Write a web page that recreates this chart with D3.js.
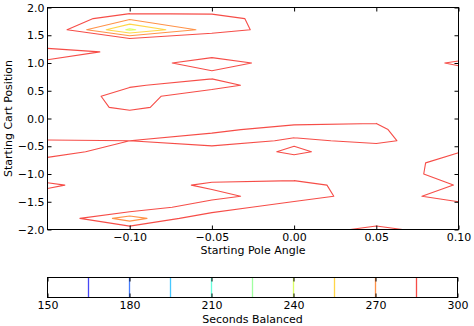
<!DOCTYPE html>
<html>
<head>
<meta charset="utf-8">
<script src="https://cdn.jsdelivr.net/npm/d3@7"></script>
<style>
  html, body { margin: 0; padding: 0; background: #fff; }
  svg { display: block; font-family: "DejaVu Sans", sans-serif; }
</style>
</head>
<body>
<svg id="chart" width="474" height="326"></svg>
<script>
// Sampled starting states: pole angle (columns) and cart position (rows, top to bottom)
const angles = [-0.15, -0.10, -0.05, 0.00, 0.05, 0.10];
const positions = [2.0, 1.8, 1.6, 1.4, 1.2, 1.0, 0.8, 0.6, 0.4, 0.2, 0.0,
                   -0.2, -0.4, -0.6, -0.8, -1.0, -1.2, -1.4, -1.6, -1.8, -2.0];

// Seconds the pole stayed balanced for each starting state (row per position)
const seconds = [
  [300, 300, 300,   300, 300,   300],
  [300, 273, 275,   300, 300,   300],
  [300, 237, 278,   293, 300,   300],
  [300, 298, 300,   300, 300,   300],
  [278, 289, 300,   300, 300,   299],
  [288, 300, 271,   300, 300,   282],
  [300, 300, 291,   300, 300,   294],
  [300, 287, 277,   300, 300,   300],
  [300, 277, 298,   300, 300,   300],
  [300, 280, 300,   300, 300,   300],
  [300, 300, 300,   300, 287,   300],
  [300, 300, 291,   274, 282.5, 300],
  [284, 285, 272,   289, 280,   300],
  [272, 300, 300,   281, 300,   286],
  [298, 300, 300,   296, 300,   275],
  [300, 300, 300,   300, 300,   274],
  [281, 300, 280,   275, 300,   284],
  [294, 300, 292.5, 271, 300,   273],
  [300, 300, 271,   300, 300,   297],
  [300, 262, 300,   300, 300,   300],
  [300, 295, 300,   300, 278,   300]
];

const levels = [165, 180, 195, 210, 225, 240, 255, 270, 285];
const xTicks = [-0.10, -0.05, 0.00, 0.05, 0.10];
const yTicks = [-2.0, -1.5, -1.0, -0.5, 0.0, 0.5, 1.0, 1.5, 2.0];
const barTicks = [150, 180, 210, 240, 270, 300];

const svg = d3.select("#chart");
const plot = { left: 47.5, right: 458.5, top: 7.5, bottom: 229.5 };
const bar = { left: 47.5, right: 457.5, top: 277.5, bottom: 297.5 };

const x = d3.scaleLinear().domain([-0.15, 0.10]).range([plot.left, plot.right]);
const y = d3.scaleLinear().domain([-2, 2]).range([plot.bottom, plot.top]);
const xBar = d3.scaleLinear().domain([150, 300]).range([bar.left, bar.right]);

// jet colour map
const jetR = d3.scaleLinear([0, 0.35, 0.66, 0.89, 1], [0, 0, 1, 1, 0.5]).clamp(true);
const jetG = d3.scaleLinear([0, 0.125, 0.375, 0.64, 0.91, 1], [0, 0, 1, 1, 0, 0]).clamp(true);
const jetB = d3.scaleLinear([0, 0.11, 0.34, 0.65, 1], [0.5, 1, 1, 0, 0]).clamp(true);
const jet = t => d3.rgb(255 * jetR(t), 255 * jetG(t), 255 * jetB(t)).toString();
const colour = d3.scaleSequential(jet).domain([150, 300]);
const lineAlpha = 0.72;

// Marching squares with linear interpolation on cell edges; saddle cells are
// resolved with the mean of the four corners.
function contourSegments(level) {
  const segs = [];
  for (let r = 0; r < positions.length - 1; r++) {
    for (let c = 0; c < angles.length - 1; c++) {
      const pts = [[c, r], [c + 1, r], [c + 1, r + 1], [c, r + 1]];
      const z = pts.map(([i, j]) => seconds[j][i]);
      const low = z.map(v => v < level);
      const cross = [];
      for (let k = 0; k < 4; k++) {
        const k2 = (k + 1) % 4;
        if (low[k] !== low[k2]) {
          const t = (level - z[k]) / (z[k2] - z[k]);
          const a = pts[k], b = pts[k2];
          cross[k] = [
            angles[a[0]] + t * (angles[b[0]] - angles[a[0]]),
            positions[a[1]] + t * (positions[b[1]] - positions[a[1]])
          ];
        }
      }
      const edges = [0, 1, 2, 3].filter(k => cross[k]);
      if (edges.length === 2) {
        segs.push([cross[edges[0]], cross[edges[1]]]);
      } else if (edges.length === 4) {
        const centreLow = d3.mean(z) < level;
        for (let k = 0; k < 4; k++) {
          if (low[k] !== centreLow) segs.push([cross[(k + 3) % 4], cross[k]]);
        }
      }
    }
  }
  return segs;
}

svg.append("defs").append("clipPath").attr("id", "plot-clip")
  .append("rect")
  .attr("x", plot.left).attr("y", plot.top)
  .attr("width", plot.right - plot.left).attr("height", plot.bottom - plot.top);

const line = d3.line().x(d => x(d[0])).y(d => y(d[1]));

svg.append("g").attr("clip-path", "url(#plot-clip)")
  .selectAll("path")
  .data(levels)
  .join("path")
  .attr("d", lv => contourSegments(lv).map(s => line(s)).join(""))
  .attr("fill", "none")
  .attr("stroke", lv => colour(lv))
  .attr("stroke-opacity", lineAlpha)
  .attr("stroke-width", 1.1)
  .attr("stroke-linecap", "round")
  .attr("stroke-linejoin", "round");

// Axes with inward ticks on all four sides
function styleAxis(g) {
  g.select(".domain").remove();
  g.selectAll(".tick line").attr("stroke", "#000");
  g.selectAll("text").attr("fill", "#000")
    .attr("font-size", 11).attr("font-family", "DejaVu Sans, sans-serif");
}

svg.append("g").attr("transform", `translate(0,${plot.bottom})`)
  .call(d3.axisBottom(x).tickValues(xTicks).tickSize(-4).tickPadding(4).tickFormat(d3.format(".2f")))
  .call(styleAxis);
svg.append("g").attr("transform", `translate(0,${plot.top})`)
  .call(d3.axisTop(x).tickValues(xTicks).tickSize(-4).tickFormat(""))
  .call(styleAxis);
svg.append("g").attr("transform", `translate(${plot.left},0)`)
  .call(d3.axisLeft(y).tickValues(yTicks).tickSize(-4).tickPadding(3).tickFormat(d3.format(".1f")))
  .call(styleAxis);
svg.append("g").attr("transform", `translate(${plot.right},0)`)
  .call(d3.axisRight(y).tickValues(yTicks).tickSize(-4).tickFormat(""))
  .call(styleAxis);

svg.append("rect")
  .attr("x", plot.left).attr("y", plot.top)
  .attr("width", plot.right - plot.left).attr("height", plot.bottom - plot.top)
  .attr("fill", "none").attr("stroke", "#000").attr("stroke-width", 1);

svg.append("text")
  .attr("x", (plot.left + plot.right) / 2).attr("y", 254)
  .attr("text-anchor", "middle").attr("font-size", 11)
  .text("Starting Pole Angle");

svg.append("text")
  .attr("transform", `translate(12,${(plot.top + plot.bottom) / 2}) rotate(-90)`)
  .attr("text-anchor", "middle").attr("font-size", 11)
  .text("Starting Cart Position");

// Colour bar: one line per contour level
svg.append("g").selectAll("line")
  .data(levels)
  .join("line")
  .attr("x1", d => xBar(d)).attr("x2", d => xBar(d))
  .attr("y1", bar.top).attr("y2", bar.bottom)
  .attr("stroke", d => colour(d))
  .attr("stroke-opacity", lineAlpha)
  .attr("stroke-width", 1.3);

svg.append("g").attr("transform", `translate(0,${bar.bottom})`)
  .call(d3.axisBottom(xBar).tickValues(barTicks).tickSize(-4).tickPadding(4).tickFormat(d3.format("d")))
  .call(styleAxis);
svg.append("g").attr("transform", `translate(0,${bar.top})`)
  .call(d3.axisTop(xBar).tickValues(barTicks).tickSize(-4).tickFormat(""))
  .call(styleAxis);

svg.append("rect")
  .attr("x", bar.left).attr("y", bar.top)
  .attr("width", bar.right - bar.left).attr("height", bar.bottom - bar.top)
  .attr("fill", "none").attr("stroke", "#000").attr("stroke-width", 1);

svg.append("text")
  .attr("x", (bar.left + bar.right) / 2).attr("y", 322.5)
  .attr("text-anchor", "middle").attr("font-size", 11)
  .text("Seconds Balanced");
</script>
</body>
</html>
